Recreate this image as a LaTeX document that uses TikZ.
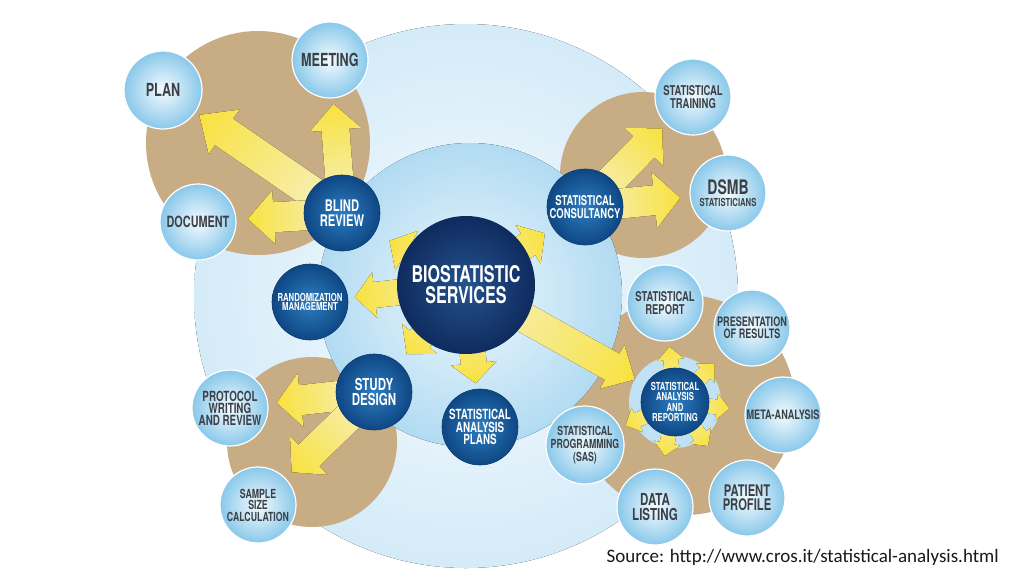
\documentclass[tikz,border=0pt]{standalone}
\usepackage{fontspec}
\newfontfamily\lblfont[FakeStretch=0.7]{TeX Gyre Heros}
\newfontfamily\srcfont{Carlito}

\definecolor{ringout}{HTML}{D4EBF8}
\definecolor{ringin}{HTML}{F7FBFE}
\definecolor{corein}{HTML}{EEF7FC}
\definecolor{coreout}{HTML}{B1DBF2}
\definecolor{tanfill}{HTML}{C8AC84}
\definecolor{bubin}{HTML}{F4FBFE}
\definecolor{bubout}{HTML}{89C8EA}
\definecolor{hubin}{HTML}{2E7DC0}
\definecolor{hubout}{HTML}{0E4784}
\definecolor{bioin}{HTML}{24538F}
\definecolor{bioout}{HTML}{0F2B5E}
\definecolor{ytail}{HTML}{F6F0C8}
\definecolor{yhead}{HTML}{F8E23F}
\definecolor{lblgray}{HTML}{3C4046}

\pgfdeclarelayer{back}
\pgfdeclarelayer{mid}
\pgfsetlayers{back,mid,main}

% block arrow: from, to, tip gap, shaft width, head width, head length
\newcommand{\yarrow}[6]{%
    \pgfpointanchor{#1}{center}\pgfgetlastxy{\yax}{\yay}%
    \pgfpointanchor{#2}{center}\pgfgetlastxy{\ybx}{\yby}%
    \pgfmathsetmacro{\yang}{atan2(\yby-\yay,\ybx-\yax)}%
    \pgfmathsetmacro{\ytip}{veclen(\ybx-\yax,\yby-\yay)-#3}%
    \pgfmathsetmacro{\yneck}{\ytip-#6}%
    \pgfmathsetmacro{\yw}{#4/2}%
    \pgfmathsetmacro{\yh}{#5/2}%
    \fill[yfill, transform canvas={shift={(\yax,\yay)}, rotate=\yang}]
        (0pt,-\yw pt) -- (\yneck pt,-\yw pt) -- (\yneck pt,-\yh pt) -- (\ytip pt,0pt)
        -- (\yneck pt,\yh pt) -- (\yneck pt,\yw pt) -- (0pt,\yw pt) -- cycle;
}

\begin{document}
\begin{tikzpicture}[
        x=1pt, y=-1pt,
        bubble/.style={circle, minimum size=76, inner sep=0pt, inner color=bubin,
            outer color=bubout, draw=white, line width=1.2, text=lblgray, align=center},
        hub/.style={circle, minimum size=76, inner sep=0pt, inner color=hubin,
            outer color=hubout, draw=hubout!85!black, line width=0.6, text=white, align=center},
        lbl/.style 2 args={font={\lblfont\bfseries\fontsize{#1}{#2}\selectfont}},
        yfill/.style={left color=ytail, right color=yhead},
        ]
        \useasboundingbox (0,0) rectangle (1024,576);

        % centre and first ring
        \node[circle, minimum size=138, inner sep=0pt, inner color=bioin, outer color=bioout,
            text=white, align=center, lbl={23}{21}] (bio) at (466,285) {BIOSTATISTIC\\SERVICES};
        \node[hub, lbl={16}{14.5}] (blind) at (342,213) {BLIND\\REVIEW};
        \node[hub, lbl={11}{9.5}] (random) at (310,302) {RANDOMIZATION\\MANAGEMENT};
        \node[hub, lbl={16.5}{15}] (study) at (374,392) {STUDY\\DESIGN};
        \node[hub, lbl={14}{12.5}] (sap) at (480,427) {STATISTICAL\\ANALYSIS\\PLANS};
        \node[hub, lbl={13.5}{13}] (consult) at (585,207) {STATISTICAL\\CONSULTANCY};
        \node[hub, minimum size=68, lbl={11}{10.5}] (sar) at (675,402) {STATISTICAL\\ANALYSIS\\AND\\REPORTING};

        % outer bubbles
        \node[bubble, minimum size=78, lbl={18}{16}] (plan) at (163,90) {PLAN};
        \node[bubble, lbl={18}{16}] (meeting) at (330,60) {MEETING};
        \node[bubble, lbl={15.5}{14}] (document) at (198,222) {DOCUMENT};
        \node[bubble, lbl={13.5}{13}] (training) at (693,97) {STATISTICAL\\TRAINING};
        \node[bubble, lbl={20}{12.5}] (dsmb) at (728,193) {DSMB\\{\fontsize{11}{11}\selectfont STATISTICIANS}};
        \node[bubble, lbl={13.5}{12.5}] (report) at (665,303) {STATISTICAL\\REPORT};
        \node[bubble, lbl={13}{12}] (present) at (752,328) {PRESENTATION\\OF RESULTS};
        \node[bubble, lbl={13}{12}] (meta) at (783,415) {META-ANALYSIS};
        \node[bubble, lbl={16}{14}] (patient) at (747,498) {PATIENT\\PROFILE};
        \node[bubble, lbl={16.5}{15}] (listing) at (655,507) {DATA\\LISTING};
        \node[bubble, lbl={12.5}{13}] (programming) at (585,445) {STATISTICAL\\PROGRAMMING\\(SAS)};
        \node[bubble, lbl={14}{12}] (protocol) at (230,408) {PROTOCOL\\WRITING\\AND REVIEW};
        \node[bubble, lbl={12.5}{11.5}] (sample) at (258,505) {SAMPLE\\SIZE\\CALCULATION};

        \node[anchor=base west, text=black!90, font={\srcfont\fontsize{19}{22}\selectfont}]
            (source) at (603,562) {Source: http://www.cros.it/statistical-analysis.html};

        \begin{pgfonlayer}{mid}
            \yarrow{blind}{plan}{44}{32}{54}{30}
            \yarrow{blind}{meeting}{44}{28}{52}{26}
            \yarrow{blind}{document}{50}{30}{54}{26}
            \yarrow{consult}{training}{44}{30}{54}{26}
            \yarrow{consult}{dsmb}{48}{30}{56}{26}
            \yarrow{study}{protocol}{47}{30}{54}{24}
            \yarrow{study}{sample}{47}{30}{54}{24}
            \foreach \t/\g in {blind/55, random/45, study/50, sap/44, consult/48}
                \yarrow{bio}{\t}{\g}{26}{46}{20};
            \yarrow{bio}{sar}{46}{30}{50}{26}
            \foreach \t/\g in {report/44, present/52, meta/54, patient/65, listing/52, programming/45}
                \yarrow{sar}{\t}{\g}{15}{27}{13};
        \end{pgfonlayer}

        \begin{pgfonlayer}{back}
            \fill[white] (0,0) rectangle (1024,576);
            \fill[inner color=ringin, outer color=ringout] (466,296) circle[radius=272];
            \foreach \cx/\cy/\r in {258/143/112, 643/175/83, 312/442/85, 685/405/110}
                \fill[tanfill] (\cx,\cy) circle[radius=\r];
            \fill[inner color=corein, outer color=coreout] (470,295) circle[radius=152];
            % halo round the reporting hub
            \fill[coreout!80] (sar) circle[radius=46];
        \end{pgfonlayer}
    \end{tikzpicture}
\end{document}
